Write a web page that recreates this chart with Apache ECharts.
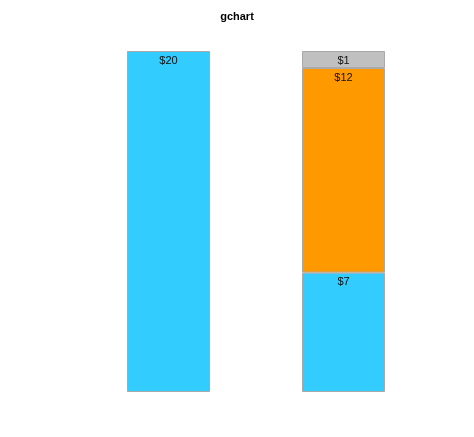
<!DOCTYPE html>
<html><head><meta charset="utf-8">
<script src="https://cdn.jsdelivr.net/npm/echarts@6/dist/echarts.min.js"></script>
<style>html,body{margin:0;padding:0;background:#fff}#c{width:474px;height:437px}</style>
</head><body><div id="c"></div>
<script>
const categories = ['A', 'B'];
const seriesNames = ['s1', 's2', 's3'];
const values1 = [20, 7];
const values2 = [null, 12];
const values3 = [null, 1];
const colors = ['#33ccff', '#ff9900', '#c0c0c0'];

const chart = echarts.init(document.getElementById('c'));
const mk = (name, data, color) => ({
  name, type: 'bar', stack: 'total', data, barWidth: 83,
  itemStyle: { color, borderColor: '#a8a8a8', borderWidth: 1 },
  label: { show: true, position: 'insideTop', distance: 4, formatter: p => '$' + p.value,
    fontFamily: 'Liberation Sans, Arial, sans-serif', fontSize: 11, color: '#111' }
});
chart.setOption({
  animation: false,
  title: { text: 'gchart', left: 'center', top: 6,
    textStyle: { fontFamily: 'Liberation Sans, Arial, sans-serif', fontSize: 11, fontWeight: 'bold', color: '#000' } },
  grid: { left: 81, width: 350, top: 51, height: 341 },
  xAxis: { type: 'category', data: categories, show: false },
  yAxis: { type: 'value', min: 0, max: 20, show: false },
  series: [mk(seriesNames[0], values1, colors[0]), mk(seriesNames[1], values2, colors[1]), mk(seriesNames[2], values3, colors[2])]
});
</script></body></html>
